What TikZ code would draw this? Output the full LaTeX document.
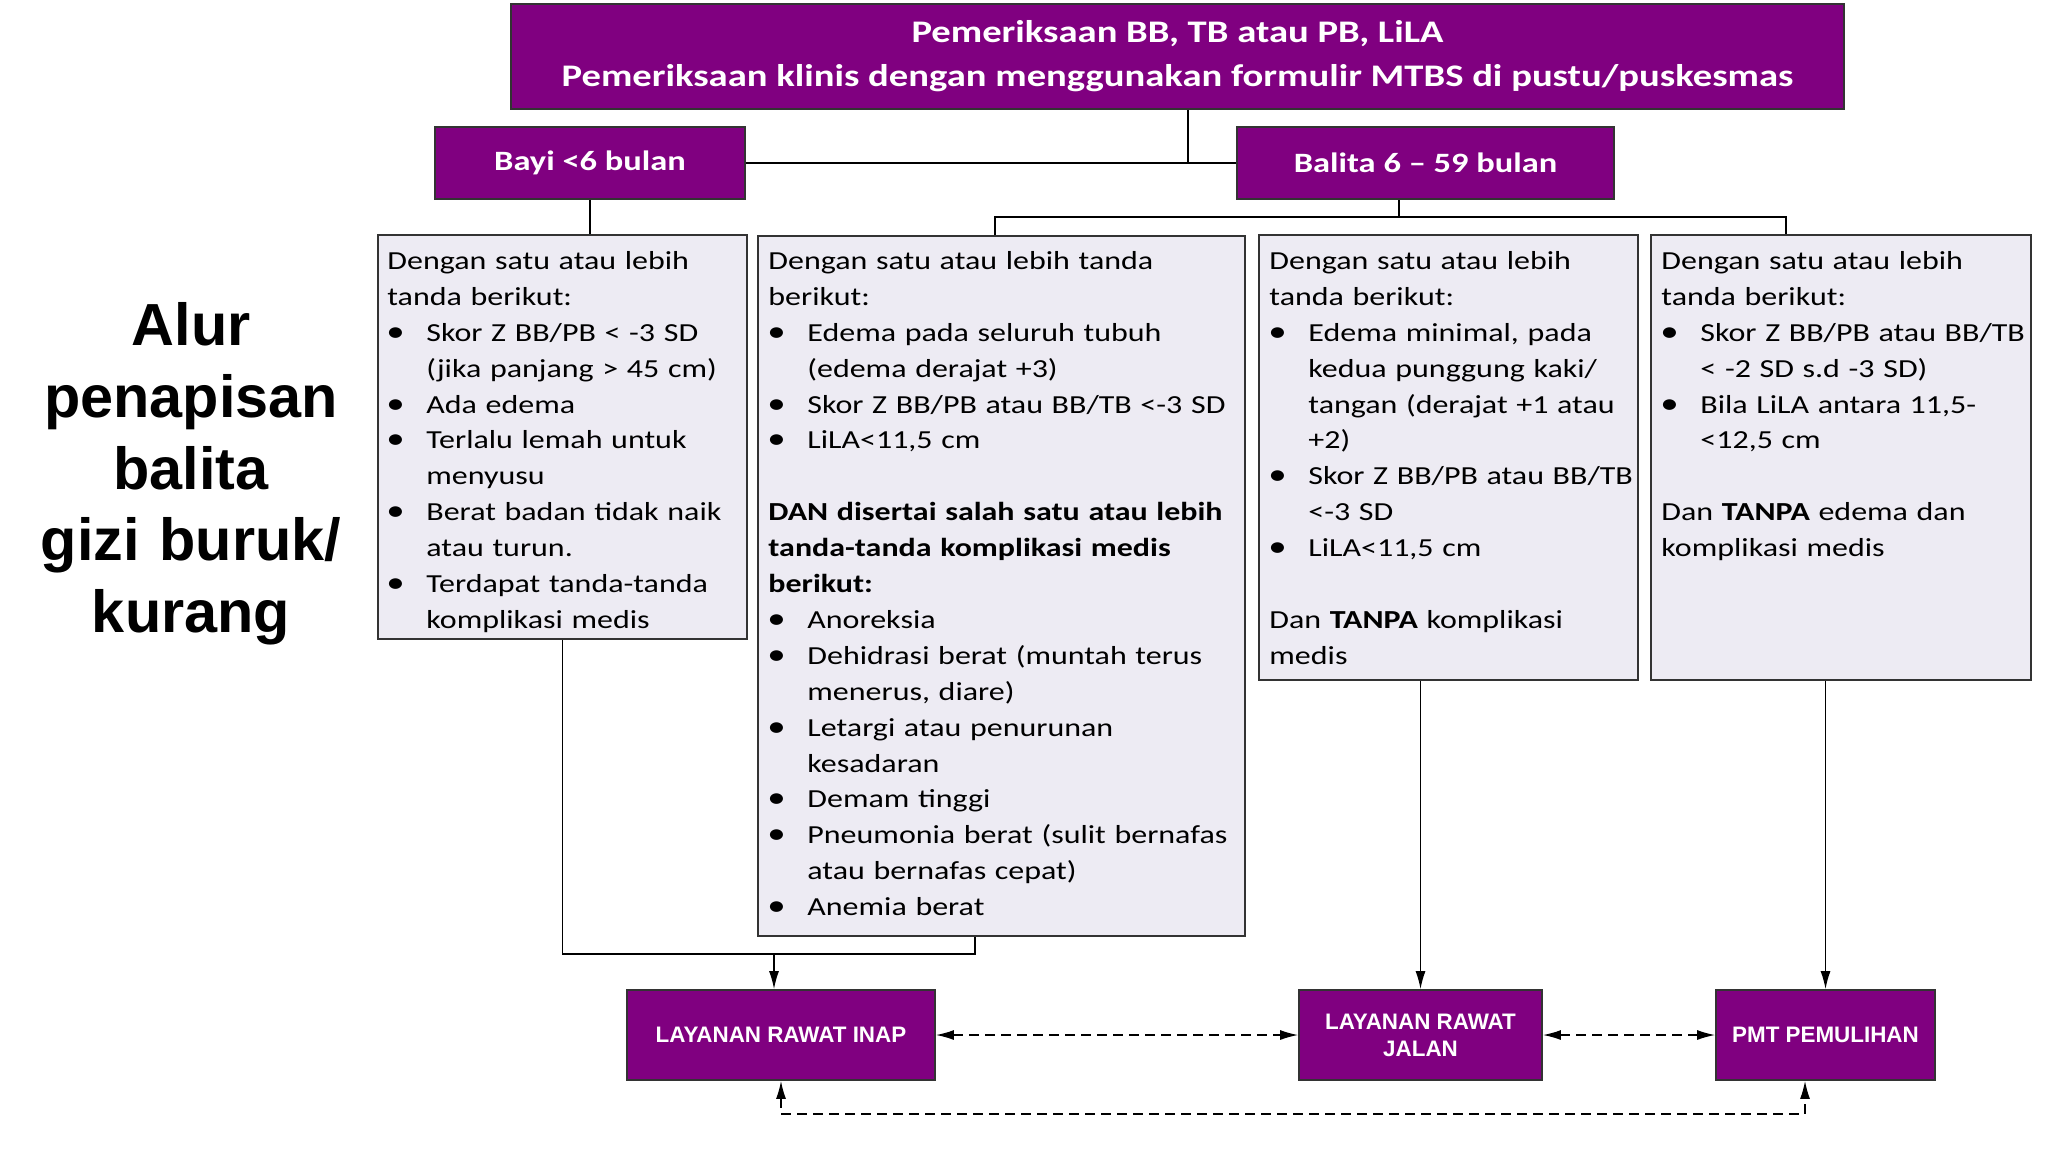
\documentclass[tikz,border=0pt]{standalone}
\usepackage{xcolor}
\usepackage{fontspec}
\setmainfont{Carlito}[FakeStretch=1.23]
\newfontfamily\arialfont{Liberation Sans}
\usepackage{tikz}
\usetikzlibrary{positioning, fit, arrows.meta}

\definecolor{mtbspurple}{RGB}{128,0,128}
\definecolor{mtbsgrey}{RGB}{237,235,243}
\setlength{\parindent}{0pt}
\newcommand{\itm}[1]{\par\hangindent=19.5pt\hangafter=1\makebox[19.5pt][l]{\hspace{-0.5pt}{\fontsize{15}{15}\selectfont\textbullet}}#1}
\newcommand{\gap}{\par\vspace{\baselineskip}}
\newcommand{\firstline}{\rule{0pt}{12pt}}

\begin{document}
\begin{tikzpicture}[x=0.5pt, y=-0.5pt, >={Latex[length=9pt,width=5pt]},
   every node/.style={font=\fontsize{13}{17.95}\selectfont},
   headbox/.style={draw=black!80, line width=0.9pt, fill=mtbspurple, text=white, inner sep=0pt, align=center},
   servicebox/.style={headbox, minimum height=45pt, font=\arialfont\bfseries\fontsize{11.2}{13.5}\selectfont},
   listbox/.style={draw=black!80, line width=0.8pt, fill=mtbsgrey, inner sep=0pt},
   listtext/.style={anchor=north west, inner sep=0pt, align=left},
   conn/.style={line width=0.7pt},
   referral/.style={line width=0.7pt, dash pattern=on 5pt off 3pt}]
   \useasboundingbox (0,0) rectangle (2048,1152);

   % Title on the left
   \node[font=\arialfont\bfseries\fontsize{29.7}{35.9}\selectfont, text width=200pt, align=center, anchor=north, inner sep=0pt] (title) at (191,297)
      {\rule{0pt}{24pt}Alur\\penapisan\\balita\\gizi buruk/\\kurang};

   % Header boxes
   \node[headbox, minimum width=666.5pt, minimum height=52.5pt, font=\bfseries\fontsize{15.7}{22}\selectfont] (exam) at (1177.5,56.5)
      {Pemeriksaan BB, TB atau PB, LiLA\\Pemeriksaan klinis dengan menggunakan formulir MTBS di pustu/puskesmas};
   \node[headbox, minimum width=155pt, minimum height=36pt, font=\bfseries\fontsize{14}{17}\selectfont] (bayi) at (590,163) {Bayi <6 bulan};
   \node[headbox, minimum width=188.5pt, minimum height=36pt, font=\bfseries\fontsize{14}{17}\selectfont] (balita) at (1425.5,163) {Balita 6 -- 59 bulan};

   % Criteria boxes
   \node[listbox, fit={(378,235) (747,639)}] (b1) {};
   \node[listbox, fit={(758,236) (1245,936)}] (b2) {};
   \node[listbox, fit={(1259,235) (1638,680)}] (b3) {};
   \node[listbox, fit={(1651,235) (2031,680)}] (b4) {};

   \node[listtext, text width=180pt] (t1) at (387,245) {\firstline Dengan satu atau lebih\newline tanda berikut:
      \itm{Skor Z BB/PB < -3 SD\newline (jika panjang > 45 cm)}
      \itm{Ada edema}
      \itm{Terlalu lemah untuk\newline menyusu}
      \itm{Berat badan tidak naik\newline atau turun.}
      \itm{Terdapat tanda-tanda\newline komplikasi medis}\par};
   \node[listtext, text width=238pt] (t2) at (768,245) {\firstline Dengan satu atau lebih tanda\newline berikut:
      \itm{Edema pada seluruh tubuh\newline (edema derajat +3)}
      \itm{Skor Z BB/PB atau BB/TB <-3 SD}
      \itm{LiLA<11,5 cm}
      \gap\textbf{DAN disertai salah satu atau lebih\newline tanda-tanda komplikasi medis\newline berikut:}
      \itm{Anoreksia}
      \itm{Dehidrasi berat (muntah terus\newline menerus, diare)}
      \itm{Letargi atau penurunan\newline kesadaran}
      \itm{Demam tinggi}
      \itm{Pneumonia berat (sulit bernafas\newline atau bernafas cepat)}
      \itm{Anemia berat}\par};
   \node[listtext, text width=185pt] (t3) at (1269,245) {\firstline Dengan satu atau lebih\newline tanda berikut:
      \itm{Edema minimal, pada\newline kedua punggung kaki/\newline tangan (derajat +1 atau\newline +2)}
      \itm{Skor Z BB/PB atau BB/TB\newline <-3 SD}
      \itm{LiLA<11,5 cm}
      \gap Dan \textbf{TANPA} komplikasi\newline medis\par};
   \node[listtext, text width=185pt] (t4) at (1661,245) {\firstline Dengan satu atau lebih\newline tanda berikut:
      \itm{Skor Z BB/PB atau BB/TB\newline < -2 SD s.d -3 SD)}
      \itm{Bila LiLA antara 11,5-\newline <12,5 cm}
      \gap Dan \textbf{TANPA} edema dan\newline komplikasi medis\par};

   % Service boxes
   \node[servicebox, minimum width=154pt] (inap) at (781,1035) {LAYANAN RAWAT INAP};
   \node[servicebox, minimum width=121.5pt] (jalan) at (1420.5,1035) {LAYANAN RAWAT\\JALAN};
   \node[servicebox, minimum width=109.5pt] (pmt) at (1825.5,1035) {PMT PEMULIHAN};

   % Connectors
   \coordinate (split) at (1188,163);
   \coordinate (fork) at (1399,217);
   \coordinate (left2) at (995,217);
   \coordinate (right4) at (1786,217);
   \coordinate (join) at (975,954);
   \coordinate (drop) at (774,954);
   \coordinate (loop) at (1805,1114);

   \draw[conn] (exam.south -| split) -- (split);
   \draw[conn] (bayi.east) -- (split) -- (balita.west);
   \draw[conn] (bayi.south) -- (bayi.south |- b1.north);
   \draw[conn] (fork |- balita.south) -- (fork);
   \draw[conn] (left2 |- b2.north) -- (left2) -- (right4) -- (right4 |- b4.north);
   \draw[conn] (b1.south) |- (join) -- (join |- b2.south);
   \draw[conn, ->] (drop) -- (drop |- inap.north);
   \draw[conn, ->] (b3.south -| jalan.north) -- (jalan.north);
   \draw[conn, ->] (b4.south -| pmt.north) -- (pmt.north);

   % Referral between services
   \draw[referral, <->] (inap.east) -- (jalan.west);
   \draw[referral, <->] (jalan.east) -- (pmt.west);
   \draw[referral, <->] (inap.south) |- (loop) -- (loop |- pmt.south);
\end{tikzpicture}
\end{document}
